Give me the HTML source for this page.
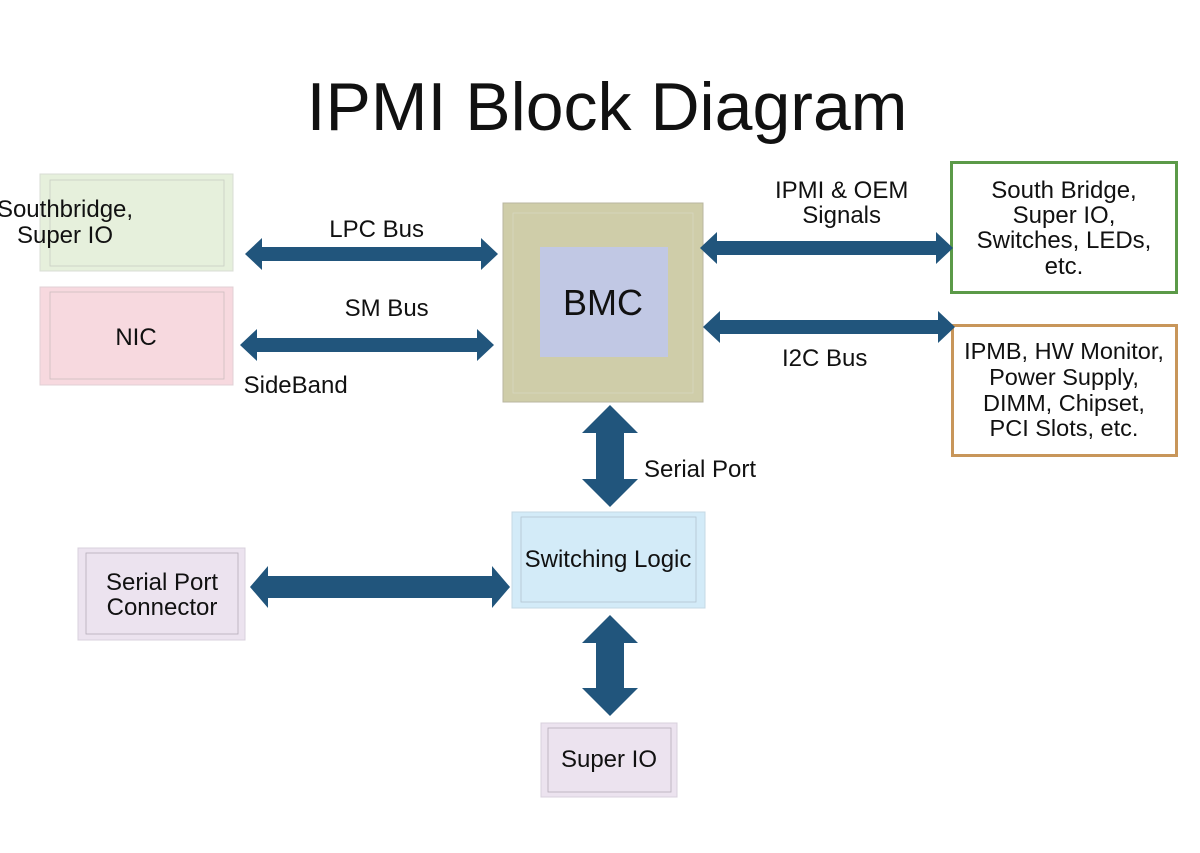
<!DOCTYPE html>
<html><head><meta charset="utf-8"><style>
html,body{margin:0;padding:0;background:#fff;}
svg{display:block;}
text{font-family:"Liberation Sans",sans-serif;fill:#111;}
</style></head><body>
<svg width="1200" height="853" viewBox="0 0 1200 853" xmlns="http://www.w3.org/2000/svg">
<text x="607" y="130" font-size="68" text-anchor="middle">IPMI Block Diagram</text>

<!-- Southbridge -->
<rect x="40" y="174" width="193" height="97" fill="#e6f0dc" stroke="#d8ddd4"/>
<rect x="50" y="180" width="174" height="86" fill="none" stroke="#c8cec4" stroke-width="0.8"/>
<text font-size="24" text-anchor="middle"><tspan x="65" y="217">Southbridge,</tspan><tspan x="65" y="243">Super IO</tspan></text>

<!-- NIC -->
<rect x="40" y="287" width="193" height="98" fill="#f7d9df" stroke="#e0d0d4"/>
<rect x="50" y="292" width="174" height="87" fill="none" stroke="#ccbcc0" stroke-width="0.8"/>
<text x="136" y="345" font-size="24" text-anchor="middle">NIC</text>

<!-- BMC -->
<rect x="503" y="203" width="200" height="199" fill="#cfcda9" stroke="#b8b6a0"/>
<rect x="513" y="213" width="180" height="180" fill="none" stroke="#d8d7c0" stroke-width="0.8"/>
<rect x="540" y="247" width="128" height="110" fill="#c1c8e4"/>
<text x="603" y="315" font-size="36" text-anchor="middle">BMC</text>

<!-- right boxes -->
<rect x="951.5" y="162.5" width="225" height="130" fill="#fff" stroke="#5b9a48" stroke-width="3"/>
<text font-size="24" text-anchor="middle"><tspan x="1064" y="198">South Bridge,</tspan><tspan x="1064" y="223">Super IO,</tspan><tspan x="1064" y="248">Switches, LEDs,</tspan><tspan x="1064" y="274">etc.</tspan></text>
<rect x="952.5" y="325.5" width="224" height="130" fill="#fff" stroke="#c8965a" stroke-width="3"/>
<text font-size="23.5" text-anchor="middle"><tspan x="1064" y="359">IPMB, HW Monitor,</tspan><tspan x="1064" y="385">Power Supply,</tspan><tspan x="1064" y="411">DIMM, Chipset,</tspan><tspan x="1064" y="436">PCI Slots, etc.</tspan></text>

<!-- Switching Logic -->
<rect x="512" y="512" width="193" height="96" fill="#d3ebf8" stroke="#c4d8e4"/>
<rect x="521" y="517" width="175" height="85" fill="none" stroke="#b4c4d0" stroke-width="0.8"/>
<text x="608" y="567" font-size="24" text-anchor="middle">Switching Logic</text>

<!-- Serial Port Connector -->
<rect x="78" y="548" width="167" height="92" fill="#ece3ef" stroke="#d8d0dc"/>
<rect x="86" y="553" width="152" height="81" fill="none" stroke="#b4acb8" stroke-width="0.8"/>
<text font-size="24" text-anchor="middle"><tspan x="162" y="590">Serial Port</tspan><tspan x="162" y="615">Connector</tspan></text>

<!-- Super IO -->
<rect x="541" y="723" width="136" height="74" fill="#ece3ef" stroke="#d8d0dc"/>
<rect x="548" y="728" width="123" height="64" fill="none" stroke="#b4acb8" stroke-width="0.8"/>
<text x="609" y="767" font-size="24" text-anchor="middle">Super IO</text>

<!-- arrows -->
<g fill="#21557c">
<polygon points="245,254 262,238 262,247 481,247 481,238 498,254 481,270 481,261 262,261 262,270"/>
<polygon points="240,345 257,329 257,338 477,338 477,329 494,345 477,361 477,352 257,352 257,361"/>
<polygon points="700,248 717,232 717,241 936,241 936,232 953,248 936,264 936,255 717,255 717,264"/>
<polygon points="703,327 720,311 720,320 938,320 938,311 955,327 938,343 938,334 720,334 720,343"/>
<polygon points="250,587 268,566 268,576 492,576 492,566 510,587 492,608 492,598 268,598 268,608"/>
<polygon points="610,405 638,433 624,433 624,479 638,479 610,507 582,479 596,479 596,433 582,433"/>
<polygon points="610,615 638,643 624,643 624,688 638,688 610,716 582,688 596,688 596,643 582,643"/>
</g>

<text font-size="24" text-anchor="middle">
<tspan x="380" y="237">LPC Bus</tspan>
<tspan x="390" y="316">SM Bus</tspan>
<tspan x="299" y="393">SideBand</tspan>
<tspan x="845" y="198">IPMI &amp; OEM</tspan>
<tspan x="845" y="223">Signals</tspan>
<tspan x="828" y="366">I2C Bus</tspan>
<tspan x="700" y="477">Serial Port</tspan>
</text>
</svg>
</body></html>
